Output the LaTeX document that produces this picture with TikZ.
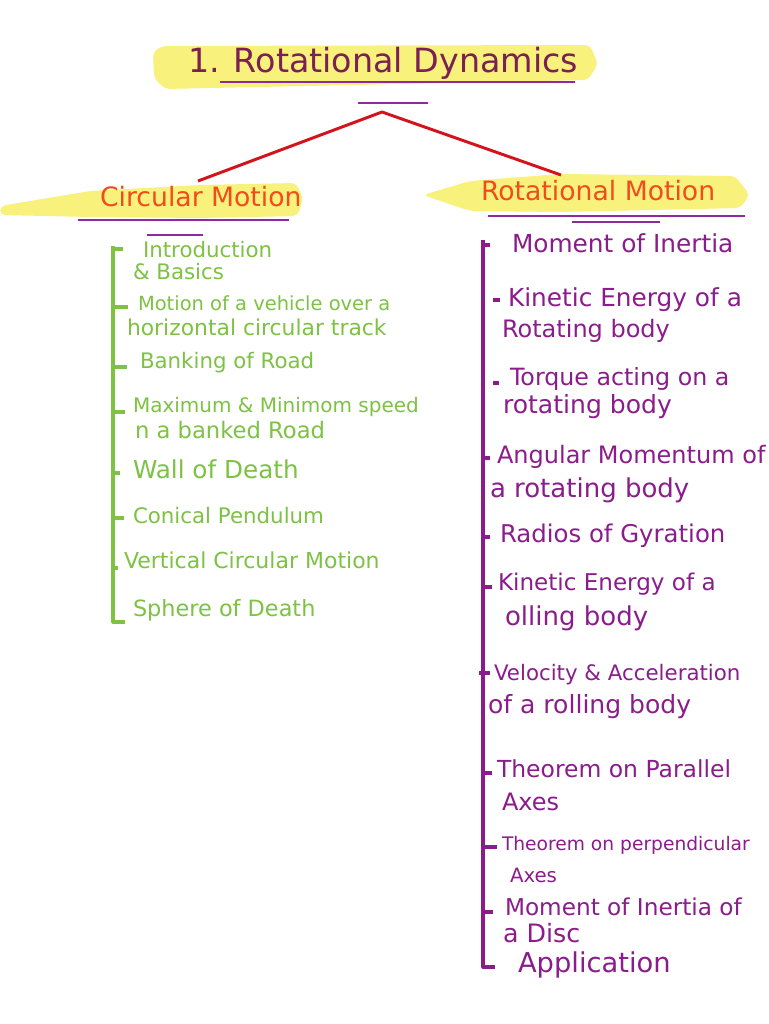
\documentclass[tikz,border=0pt]{standalone}
\usepackage{fontspec}
\setmainfont{DejaVu Sans}
\newcommand\myfs[1]{\fontsize{#1}{#1}\selectfont}
\definecolor{hl}{HTML}{F8F27C}
\definecolor{ttl}{HTML}{7A2052}
\definecolor{ulp}{HTML}{8E2A9E}
\definecolor{redl}{HTML}{D4141C}
\definecolor{head}{HTML}{F24B1C}
\definecolor{cgreen}{HTML}{7DC243}
\definecolor{cpurple}{HTML}{8B1C8C}
\tikzset{
  txt/.style={anchor=base west, inner sep=0pt, outer sep=0pt},
  gitem/.style={txt, text=cgreen, font=\myfs{16}},
  pitem/.style={txt, text=cpurple, font=\myfs{18}},
  headtxt/.style={txt, text=head, font=\myfs{20}},
  highlight/.style={fill=hl, draw=none, rounded corners=4pt},
  uline/.style={draw=ulp, line width=1.9pt},
  redline/.style={draw=redl, line width=2.2pt},
  gbar/.style={draw=cgreen, line width=2.3pt},
  pbar/.style={draw=cpurple, line width=2.3pt},
}
\begin{document}
\begin{tikzpicture}[x=0.75pt,y=-0.75pt]
\fill[white] (0,0) rectangle (768,1024);
\path[use as bounding box] (0,0) rectangle (768,1024);

% ---------- title ----------
\path[highlight] (153,52) -- (162,46) -- (590,45) -- (598,64) -- (588,80) -- (400,84) -- (165,89) -- (154,78) -- cycle;
\node[txt, text=ttl, font=\myfs{25}] (title) at (188,73) {1. Rotational Dynamics};
\draw[uline] (220,82) -- (575,82);
\draw[uline] (358,103) -- (428,103);

% ---------- headings ----------
\path[highlight] (0,206) -- (90,191) -- (200,185) -- (296,183) -- (303,198) -- (298,216) -- (200,218) -- (90,217) -- (0,215) -- cycle;
\path[highlight] (423,195) -- (470,181) -- (560,174) -- (735,176) -- (750,195) -- (740,208) -- (560,212) -- (470,211) -- cycle;
\node[headtxt] (circ) at (100,206) {Circular Motion};
\node[headtxt] (rot) at (481,200) {Rotational Motion};
\draw[uline] (78,220) -- (289,220);
\draw[uline] (147,235) -- (203,235);
\draw[uline] (488,216) -- (745,216);
\draw[uline] (572,222) -- (660,222);

% ---------- red connectors ----------
\coordinate (apex) at (382,112);
\coordinate (circtop) at (198,181);
\coordinate (rottop) at (561,175);
\draw[redline, line join=round] (circtop) -- (apex) -- (rottop);

% ---------- green list ----------
\node[gitem] (g1) at (143,257) {Introduction};
\node[gitem] (g1b) at (133,279) {\& Basics};
\node[gitem, font=\myfs{14.6}] (g2) at (138,310) {Motion of a vehicle over a};
\node[gitem, font=\myfs{16.4}] (g2b) at (127,335) {horizontal circular track};
\node[gitem] (g3) at (140,368) {Banking of Road};
\node[gitem, font=\myfs{15}] (g4) at (133,412) {Maximum \& Minimom speed};
\node[gitem, font=\myfs{17}] (g4b) at (135,438) {n a banked Road};
\node[gitem, font=\myfs{18.5}] (g5) at (133,478) {Wall of Death};
\node[gitem] (g6) at (133,523) {Conical Pendulum};
\node[gitem, font=\myfs{16.5}] (g7) at (124,568) {Vertical Circular Motion};
\node[gitem, font=\myfs{16.8}] (g8) at (133,616) {Sphere of Death};

\coordinate (gtop) at (113,246);
\coordinate (gbot) at (113,622);
\draw[gbar, line join=round] (gtop) -- (gbot) -- (125,622);
\draw[gbar, line width=3pt] (113,249) -- (123,249);
\draw[gbar] (113,307) -- (128,307);
\draw[gbar] (113,367) -- (127,367);
\draw[gbar] (113,412) -- (125,412);
\draw[gbar] (113,473) -- (120,473);
\draw[gbar] (113,518) -- (124,518);
\draw[gbar] (113,568) -- (118,568);

% ---------- purple list ----------
\node[pitem, font=\myfs{18.6}] (p1) at (512,252) {Moment of Inertia};
\node[pitem, font=\myfs{18.6}] (p2) at (508,306) {Kinetic Energy of a};
\node[pitem] (p2b) at (502,337) {Rotating body};
\node[pitem, font=\myfs{17.8}] (p3) at (510,385) {Torque acting on a};
\node[pitem, font=\myfs{18.8}] (p3b) at (503,413) {rotating body};
\node[pitem] (p4) at (497,463) {Angular Momentum of};
\node[pitem, font=\myfs{19.5}] (p4b) at (490,497) {a rotating body};
\node[pitem, font=\myfs{18.3}] (p5) at (500,542) {Radios of Gyration};
\node[pitem, font=\myfs{17.3}] (p6) at (498,590) {Kinetic Energy of a};
\node[pitem, font=\myfs{19.5}] (p6b) at (505,625) {olling body};
\node[pitem, font=\myfs{16}] (p7) at (494,680) {Velocity \& Acceleration};
\node[pitem, font=\myfs{18.8}] (p7b) at (488,713) {of a rolling body};
\node[pitem, font=\myfs{17.6}] (p8) at (497,777) {Theorem on Parallel};
\node[pitem] (p8b) at (502,810) {Axes};
\node[pitem, font=\myfs{14}] (p9) at (502,850) {Theorem on perpendicular};
\node[pitem, font=\myfs{14.8}] (p9b) at (510,882) {Axes};
\node[pitem, font=\myfs{17.4}] (p10) at (505,915) {Moment of Inertia of};
\node[pitem, font=\myfs{19}] (p10b) at (503,942) {a Disc};
\node[pitem, font=\myfs{20.5}] (p11) at (518,972) {Application};

\coordinate (ptop) at (483,240);
\coordinate (pbot) at (483,967);
\draw[pbar, line join=round] (ptop) -- (pbot) -- (495,967);
\draw[pbar, line width=3pt] (483,245) -- (490,245);
\draw[pbar] (493,300) -- (500,300);
\draw[pbar] (493,383) -- (499,383);
\draw[pbar] (483,458) -- (490,458);
\draw[pbar] (483,537) -- (490,537);
\draw[pbar] (483,587) -- (492,587);
\draw[pbar] (479,673) -- (490,673);
\draw[pbar] (483,773) -- (492,773);
\draw[pbar] (483,847) -- (497,847);
\draw[pbar] (483,912) -- (493,912);
\end{tikzpicture}
\end{document}
